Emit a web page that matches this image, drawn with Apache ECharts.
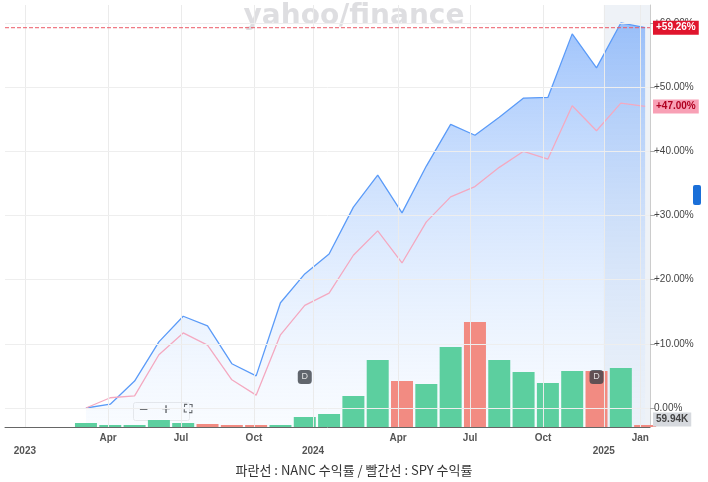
<!DOCTYPE html><html><head><meta charset="utf-8">
<script src="https://cdn.jsdelivr.net/npm/echarts@6/dist/echarts.min.js"></script>
<style>html,body{margin:0;padding:0;background:#fff}#c{width:708px;height:482px}</style></head><body><div id="c"></div><script>
// monthly points, index 0 = Mar 2023 ... 23 = Feb 2025
const nanc=[0,0.6,4.2,10.3,14.3,12.8,6.9,5.0,16.4,20.9,24.0,31.3,36.3,30.4,37.7,44.2,42.5,45.3,48.3,48.4,58.3,53.0,60.0,59.26];
const spy=[0,1.6,1.9,8.3,11.7,9.8,4.4,2.0,11.4,16.0,17.9,23.8,27.6,22.6,29.0,32.9,34.5,37.5,40.0,38.8,47.1,43.2,47.5,47.0];
const volume=[4,2,2,7,4,3,2,2,2,10,13,31,67,46,43,80,105,67,55,44,56,56,59,2];
const volUp=[1,1,1,1,1,0,0,0,1,1,1,1,1,0,1,1,0,1,1,1,1,0,1,0];
const monthTicks=[0.91,3.91,6.91,12.84,15.8,18.8,22.8];
const monthLabels=['Apr','Jul','Oct','Apr','Jul','Oct','Jan'];
const yearTicks=[-2.51,9.34,21.3];
const yearLabels=['2023','2024','2025'];
const yTicks=[0,10,20,30,40,50,60];
const divIdx=[9,21];
const divY=4.83;
const lastNanc=59.26, lastSpy=47.0;

const idx=a=>a.map((v,i)=>[i,v]);
const vgrid=monthTicks.concat(yearTicks).map(x=>({xAxis:x}));
const hgrid=yTicks.map(y=>({yAxis:y}));
const chart=echarts.init(document.getElementById('c'));
const XMIN=-3.33, XMAX=23.2;
const xBase={type:'value',min:XMIN,max:XMAX,axisLine:{show:false},axisTick:{show:false},splitLine:{show:false}};
const tag=(f,fg,bg)=>({position:'end',formatter:f,color:fg,backgroundColor:bg,padding:[2,3],fontSize:10,fontWeight:'bold',distance:3});
chart.setOption({
 animation:false,
 grid:{left:5,right:58,top:5,bottom:55},
 graphic:[
  {type:'text',left:'center',top:3,style:{text:'yahoo/finance',font:'bold 28px "DejaVu Sans"',fill:'rgba(200,200,205,0.6)'}},
  {type:'text',left:'center',top:464,style:{text:'파란선 : NANC 수익률 / 빨간선 : SPY 수익률',font:'13px "Noto Sans CJK KR"',fill:'#333'}},
  {type:'rect',shape:{x:693,y:185,width:8,height:20,r:2},style:{fill:'#1a6fd8'}},
  {type:'group',left:133,top:402,children:[
   {type:'rect',shape:{x:0,y:0,width:56,height:18,r:2},style:{fill:'rgba(255,255,255,0.9)',stroke:'#e6e6e6'}},
   {type:'text',x:5,y:1,style:{text:'−   +   ⛶',font:'bold 12px "DejaVu Sans"',fill:'#444'}}]}
 ],
 xAxis:[
  Object.assign({},xBase,{axisLine:{show:true,onZero:false,lineStyle:{color:'#666'}},axisLabel:{customValues:monthTicks,formatter:v=>monthLabels[monthTicks.indexOf(v)]||'',color:'#555',fontSize:10,fontWeight:'bold',margin:6}}),
  Object.assign({},xBase,{position:'bottom',axisLabel:{customValues:yearTicks,formatter:v=>yearLabels[yearTicks.indexOf(v)]||'',color:'#555',fontSize:10,fontWeight:'bold',margin:19}})
 ],
 yAxis:[
  {type:'value',position:'right',min:-2.96,max:62.8,splitLine:{show:false},axisLine:{show:true,onZero:false,lineStyle:{color:'#ccc'}},
   axisTick:{show:true,customValues:yTicks,lineStyle:{color:'#aaa'}},
   axisLabel:{customValues:yTicks,formatter:v=>v===0?'0.00%':'+'+v.toFixed(2)+'%',color:'#444',fontSize:10,margin:4}},
  {type:'value',min:0,max:422,show:false,axisLine:{onZero:false}}
 ],
 series:[
  {type:'bar',yAxisIndex:1,barWidth:22,data:volume.map((v,i)=>({value:[i,v],itemStyle:{color:volUp[i]?'#5ccf9f':'#f28b82'}})),z:3,
   markLine:{silent:true,symbol:'none',label:{show:false},lineStyle:{color:'#ebebeb',type:'solid',width:1},data:vgrid},
   markArea:{silent:true,itemStyle:{color:'rgba(205,218,232,0.35)'},data:[[{xAxis:21.3},{xAxis:23.2}]]}},
  {type:'line',data:idx(nanc),symbol:'none',z:2,lineStyle:{color:'#5b9bf8',width:1.3},
   areaStyle:{origin:'start',color:new echarts.graphic.LinearGradient(0,0,0,1,[{offset:0,color:'rgba(110,165,250,0.95)'},{offset:1,color:'rgba(225,238,255,0.3)'}])},
   markLine:{silent:true,symbol:'none',label:{show:false},lineStyle:{color:'#eeeeee',type:'solid',width:1},data:hgrid}},
  {type:'line',data:idx(spy),symbol:'none',z:4,lineStyle:{color:'#f4a9c0',width:1.3}},
  {type:'line',data:[[XMIN,lastNanc],[XMAX,lastNanc]],symbol:'none',z:5,lineStyle:{color:'#ec5a66',type:'dashed',width:1}},
  {type:'line',data:[],markLine:{silent:true,symbol:'none',lineStyle:{width:0,color:'rgba(0,0,0,0)'},data:[
    {yAxis:lastNanc,label:tag('+59.26%','#fff','#e0152d')},
    {yAxis:lastSpy,label:tag('+47.00%','#b00020','#f8a0b5')},
    {yAxis:-1.8,label:tag('59.94K','#444','#d6d9de')}]}},
  {type:'scatter',data:divIdx.map(i=>[i,divY]),symbol:'roundRect',symbolSize:14,z:6,itemStyle:{color:'#3c4148'},
   label:{show:true,position:'inside',formatter:'D',color:'#fff',fontSize:9}}
 ]
});
</script></body></html>
